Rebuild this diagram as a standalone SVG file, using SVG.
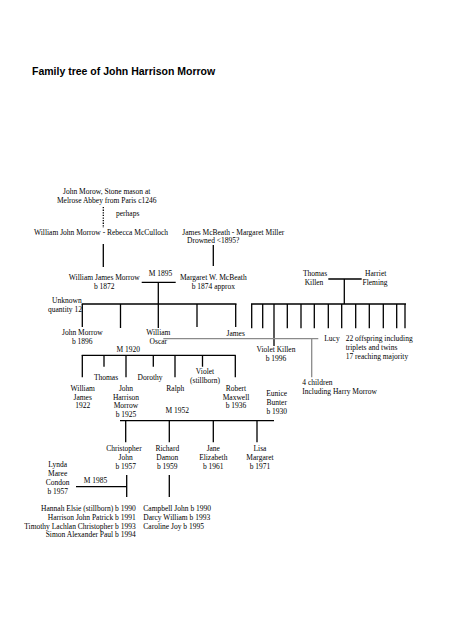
<svg xmlns="http://www.w3.org/2000/svg" width="452" height="640" viewBox="0 0 452 640">
<style>
text{font-family:"Liberation Serif","Times New Roman",serif;font-size:7.5px;fill:#000}
.c{text-anchor:middle}
.r{text-anchor:end}
.title{font-family:"Liberation Sans",Arial,sans-serif;font-weight:bold;font-size:10.5px}
.ln{stroke:#000;stroke-width:1.3;fill:none}
.gr{stroke:#8a8a8a;stroke-width:1.3;fill:none}
.dot{stroke:#000;stroke-width:1.3;stroke-dasharray:1.3,1.3;fill:none}
</style>
<rect width="452" height="640" fill="#fff"/>
<text class="title" x="32" y="75">Family tree of John Harrison Morrow</text>

<g id="connectors">
<line class="dot" x1="103.3" y1="207" x2="103.3" y2="228"/>
<line class="ln" x1="103.3" y1="244" x2="103.3" y2="267"/>
<line class="ln" x1="213.3" y1="245" x2="213.3" y2="266"/>
<line class="ln" x1="141.7" y1="282.3" x2="175.7" y2="282.3"/>
<line class="ln" x1="158.3" y1="282.3" x2="158.3" y2="304"/>
<line class="ln" x1="81.7" y1="304" x2="236.5" y2="304"/>
<path class="ln" d="M82.3 304V327M120.5 304V328M158.3 304V328M197 304V327M235.7 304V327"/>
<line class="ln" x1="328.3" y1="279" x2="361.7" y2="279"/>
<line class="ln" x1="344.3" y1="279" x2="344.3" y2="304"/>
<line class="ln" x1="251" y1="304" x2="406" y2="304"/>
<path class="ln" d="M251.7 304V328.3M262.7 304V328.3M287.3 304V328.3M301 304V328.3M314.3 304V328.3M328.3 304V328.3M341.7 304V328.3M355.7 304V328.3M369.3 304V328.3M383.3 304V328.3M396.7 304V328.3M405 304V328.3"/>
<line class="ln" x1="274" y1="304" x2="274" y2="346"/>
<line class="gr" x1="163.3" y1="338.7" x2="318.3" y2="338.7"/>
<line class="gr" x1="311.7" y1="338.7" x2="311.7" y2="377.3"/>
<line class="ln" x1="81.7" y1="355.3" x2="235.7" y2="355.3"/>
<path class="ln" d="M82.3 355.3V377.3M104 355.3V366.7M126 355.3V377.3M153.3 355.3V366.7M175 355.3V377.3M202.5 355.3V366.7M235.3 355.3V377.3"/>
<line class="ln" x1="120" y1="420.7" x2="274" y2="420.7"/>
<path class="ln" d="M125.7 420.7V442.3M169.3 420.7V442.3M213.3 420.7V442.3M257 420.7V442.3"/>
<line class="ln" x1="76" y1="486.7" x2="126.7" y2="486.7"/>
<line class="ln" x1="126.7" y1="475" x2="126.7" y2="497"/>
<line class="ln" x1="169.3" y1="475" x2="169.3" y2="497"/>
</g>

<g id="john-morow">
<text class="c" x="106.7" y="194">John Morow, Stone mason at</text>
<text class="c" x="106.7" y="202.5">Melrose Abbey from Paris c1246</text>
<text x="116" y="215.5">perhaps</text>
</g>
<g id="william-john-morrow">
<text x="34" y="235">William John Morrow - Rebecca McCulloch</text>
</g>
<g id="james-mcbeath">
<text x="182.3" y="234.8">James McBeath - Margaret Miller</text>
<text x="187" y="243.4">Drowned &lt;1895?</text>
</g>
<g id="william-james-morrow">
<text class="c" x="104.3" y="280">William James Morrow</text>
<text class="c" x="104.3" y="288.5">b 1872</text>
</g>
<g id="m1895"><text class="c" x="160.6" y="276">M 1895</text></g>
<g id="margaret-mcbeath">
<text class="c" x="213.3" y="280">Margaret W. McBeath</text>
<text class="c" x="213.3" y="288.5">b 1874 approx</text>
</g>
<g id="thomas-killen">
<text class="c" x="315" y="276">Thomas</text>
<text class="c" x="314" y="285">Killen</text>
</g>
<g id="harriet-fleming">
<text class="c" x="375.7" y="276">Harriet</text>
<text class="c" x="375" y="285">Fleming</text>
</g>
<g id="unknown">
<text class="r" x="81.7" y="302.5">Unknown</text>
<text class="r" x="82" y="312">quantity 12</text>
</g>
<g id="john-morrow">
<text class="c" x="82.3" y="335">John Morrow</text>
<text class="c" x="82.3" y="343.5">b 1896</text>
</g>
<g id="william-oscar">
<text class="c" x="158.3" y="335">William</text>
<text class="c" x="158.3" y="343.5">Oscar</text>
</g>
<g id="james"><text class="c" x="235.7" y="336">James</text></g>
<g id="violet-killen">
<text class="c" x="276" y="352">Violet Killen</text>
<text class="c" x="276" y="360.5">b 1996</text>
</g>
<g id="lucy"><text class="c" x="332" y="341">Lucy</text></g>
<g id="offspring">
<text x="345.7" y="341">22 offspring including</text>
<text x="345.7" y="349.7">triplets and twins</text>
<text x="345.7" y="358.5">17 reaching majority</text>
</g>
<g id="four-children">
<text x="302.3" y="385">4 children</text>
<text x="302.3" y="393.5">Including Harry Morrow</text>
</g>
<g id="m1920"><text class="c" x="128.3" y="352">M 1920</text></g>
<g id="thomas"><text class="c" x="106" y="380">Thomas</text></g>
<g id="dorothy"><text class="c" x="150" y="380">Dorothy</text></g>
<g id="violet-stillborn">
<text class="c" x="205" y="374">Violet</text>
<text class="c" x="205" y="383">(stillborn)</text>
</g>
<g id="william-james">
<text class="c" x="82.7" y="391">William</text>
<text class="c" x="82.7" y="399.5">James</text>
<text class="c" x="82.7" y="408">1922</text>
</g>
<g id="john-harrison-morrow">
<text class="c" x="126" y="391">John</text>
<text class="c" x="126" y="399.5">Harrison</text>
<text class="c" x="126" y="408">Morrow</text>
<text class="c" x="126" y="417">b 1925</text>
</g>
<g id="ralph"><text class="c" x="175.3" y="391">Ralph</text></g>
<g id="robert-maxwell">
<text class="c" x="236" y="391">Robert</text>
<text class="c" x="236" y="399.5">Maxwell</text>
<text class="c" x="236" y="408">b 1936</text>
</g>
<g id="eunice-bunter">
<text class="c" x="276.7" y="396">Eunice</text>
<text class="c" x="276.7" y="405">Bunter</text>
<text class="c" x="276.7" y="413.5">b 1930</text>
</g>
<g id="m1952"><text class="c" x="177.3" y="412.5">M 1952</text></g>
<g id="christopher-john">
<text class="c" x="124" y="451">Christopher</text>
<text class="c" x="125.7" y="460">John</text>
<text class="c" x="125.7" y="468.5">b 1957</text>
</g>
<g id="richard-damon">
<text class="c" x="167.3" y="451">Richard</text>
<text class="c" x="167.3" y="460">Damon</text>
<text class="c" x="167.3" y="468.5">b 1959</text>
</g>
<g id="jane-elizabeth">
<text class="c" x="213.3" y="451">Jane</text>
<text class="c" x="213.3" y="460">Elizabeth</text>
<text class="c" x="213.3" y="468.5">b 1961</text>
</g>
<g id="lisa-margaret">
<text class="c" x="260" y="451">Lisa</text>
<text class="c" x="260" y="460">Margaret</text>
<text class="c" x="260" y="468.5">b 1971</text>
</g>
<g id="lynda-maree-condon">
<text class="c" x="57.7" y="467">Lynda</text>
<text class="c" x="57.7" y="476">Maree</text>
<text class="c" x="57.7" y="485">Condon</text>
<text class="c" x="57.7" y="493.5">b 1957</text>
</g>
<g id="m1985"><text class="c" x="95.5" y="483">M 1985</text></g>
<g id="christopher-children">
<text class="r" x="135.7" y="511">Hannah Elsie (stillborn) b 1990</text>
<text class="r" x="135.7" y="520">Harrison John Patrick b 1991</text>
<text class="r" x="135.7" y="528.5">Timothy Lachlan Christopher b 1993</text>
<text class="r" x="135.7" y="537">Simon Alexander Paul b 1994</text>
</g>
<g id="richard-children">
<text x="143.3" y="511">Campbell John b 1990</text>
<text x="143.3" y="520">Darcy William b 1993</text>
<text x="143.3" y="528.5">Caroline Joy b 1995</text>
</g>
</svg>
